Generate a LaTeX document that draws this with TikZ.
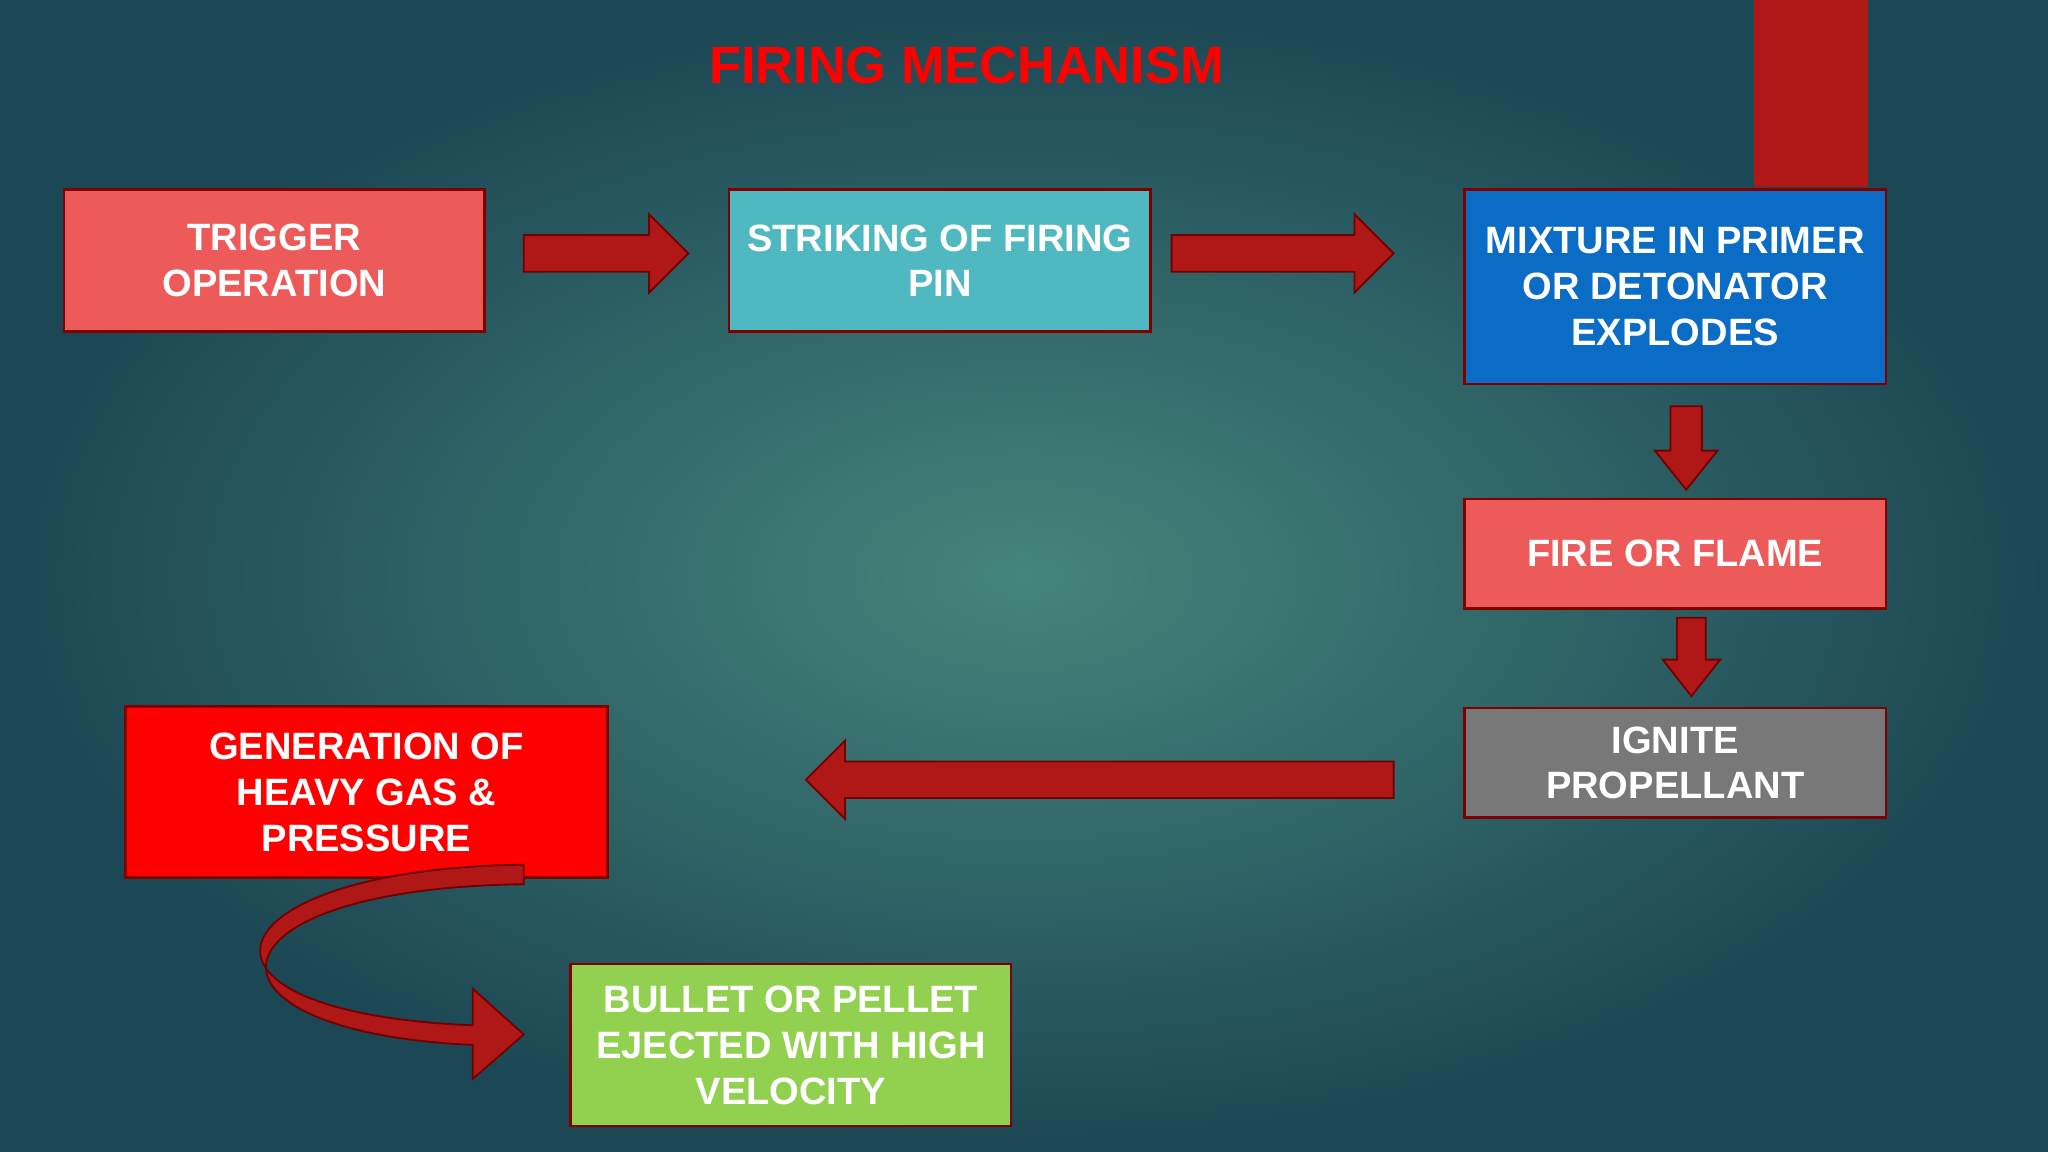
\documentclass[tikz,border=0pt]{standalone}
\usepackage{fontspec}
\setmainfont{Liberation Sans}
\begin{document}
\begin{tikzpicture}[x=0.1mm,y=-0.1mm,
  box/.style={draw=red!50!black,line width=0.6pt,inner sep=0pt,anchor=north west,align=center,text=white,font=\fontsize{8.3}{10}\selectfont\bfseries},
  arr/.style={fill=arrred,draw=red!45!black,line width=0.4pt}]
\definecolor{arrred}{HTML}{B01818}
\definecolor{bg1}{HTML}{45857C}
\definecolor{bg2}{HTML}{1C4754}
\shade[inner color=bg1,outer color=bg2] (0,0) rectangle (1568,882);
\useasboundingbox (0,0) rectangle (1568,882);
\fill[arrred] (1343,0) rectangle (1430,143);
\node[font=\fontsize{11.4}{14}\selectfont\bfseries,text=red] (title) at (740,50) {FIRING MECHANISM};
\node[box,fill={rgb,255:red,236;green,90;blue,90},minimum width=32.2mm,minimum height=10.9mm] (trig) at (48,144) {TRIGGER\\OPERATION};
\node[box,fill={rgb,255:red,80;green,184;blue,192},minimum width=32.3mm,minimum height=10.9mm] (strike) at (557,144) {STRIKING OF FIRING\\PIN};
\node[box,fill={rgb,255:red,10;green,108;blue,196},minimum width=32.3mm,minimum height=14.9mm] (mix) at (1120,144) {MIXTURE IN PRIMER\\OR DETONATOR\\EXPLODES};
\node[box,fill={rgb,255:red,236;green,90;blue,90},minimum width=32.3mm,minimum height=8.4mm] (fire) at (1120,381) {FIRE OR FLAME};
\node[box,fill={rgb,255:red,120;green,120;blue,120},minimum width=32.3mm,minimum height=8.4mm] (ign) at (1120,541) {IGNITE\\PROPELLANT};
\node[box,fill=red,minimum width=36.9mm,minimum height=13.1mm] (gen) at (95,540) {GENERATION OF\\HEAVY GAS \&\\PRESSURE};
\node[box,fill={rgb,255:red,146;green,208;blue,80},minimum width=33.7mm,minimum height=12.4mm] (bul) at (436,737) {BULLET OR PELLET\\EJECTED WITH HIGH\\VELOCITY};
% right arrows
\draw[arr] (401,180)--(497,180)--(497,164)--(527,194)--(497,224)--(497,208)--(401,208)--cycle;
\draw[arr] (897,180)--(1037,180)--(1037,164)--(1067,194)--(1037,224)--(1037,208)--(897,208)--cycle;
% down arrows
\draw[arr] (1279,311)--(1303,311)--(1303,345)--(1315,345)--(1291,375)--(1267,345)--(1279,345)--cycle;
\draw[arr] (1284,473)--(1306,473)--(1306,505)--(1317,505)--(1295,533)--(1273,505)--(1284,505)--cycle;
% left arrow
\draw[arr] (1067,583)--(647,583)--(647,567)--(617,597)--(647,627)--(647,611)--(1067,611)--cycle;
% curved arrow
\draw[arr] (401,662) .. controls (160,665) and (120,775) .. (362,785) -- (362,757) -- (401,792) -- (362,826) -- (362,800) .. controls (140,790) and (150,680) .. (401,677) -- cycle;
\end{tikzpicture}
\end{document}
